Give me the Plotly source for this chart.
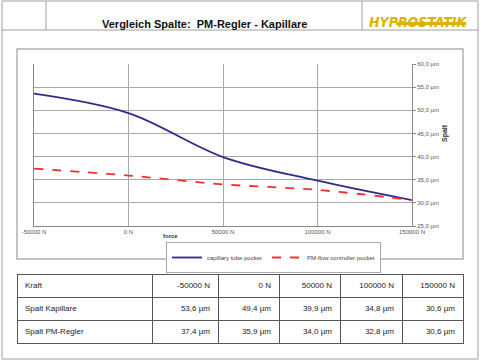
import plotly.graph_objects as go

force = [-50000, 0, 50000, 100000, 150000]
force_labels = ["-50000 N", "0 N", "50000 N", "100000 N", "150000 N"]
kapillare = [53.6, 49.4, 39.9, 34.8, 30.6]
pm_regler = [37.4, 35.9, 34.0, 32.8, 30.6]
y_ticks = [25, 30, 35, 40, 45, 50, 55, 60]

W, H = 480, 363
def px(x): return x / W
def py(y): return 1 - y / H

fig = go.Figure()
fig.add_trace(go.Scatter(x=force, y=kapillare, mode="lines", name="capillary tube pocket",
                         line=dict(color="#2E2A8E", width=1.8, shape="spline", smoothing=1.0)))
fig.add_trace(go.Scatter(x=force, y=pm_regler, mode="lines", name="PM-flow controller pocket",
                         line=dict(color="#F0302E", width=1.8, dash="dash", shape="spline")))

fmt = lambda v: f"{v:.1f}".replace(".", ",") + " µm"
header = ["Kraft"] + force_labels
row1 = ["Spalt Kapillare"] + [fmt(v) for v in kapillare]
row2 = ["Spalt PM-Regler"] + [fmt(v) for v in pm_regler]
cols = [[row1[i], row2[i]] for i in range(len(header))]
fig.add_trace(go.Table(
    domain=dict(x=[px(17), px(463)], y=[py(344), py(274)]),
    columnwidth=[135, 66, 61, 61, 62, 61],
    header=dict(values=header, height=23, align=["left"] + ["right"] * 5,
                line=dict(color="#555555", width=1), fill=dict(color="white"),
                font=dict(family="Liberation Sans, Arial", size=8, color="#222222")),
    cells=dict(values=cols, height=23, align=["left"] + ["right"] * 5,
               line=dict(color="#555555", width=1), fill=dict(color="white"),
               font=dict(family="Liberation Sans, Arial", size=8, color="#222222")),
))

grid = "#AAAAAA"
fig.update_layout(
    width=W, height=H, margin=dict(l=0, r=0, t=0, b=0, autoexpand=False),
    paper_bgcolor="white", plot_bgcolor="white",
    font=dict(family="Liberation Sans, Arial", color="#555555"),
    xaxis=dict(domain=[px(34), px(412)], range=[-50000, 150000], tickvals=force,
               ticktext=force_labels, showgrid=True, gridcolor=grid, gridwidth=1,
               showline=True, linecolor="#888888", zeroline=False, automargin=False,
               tickfont=dict(size=6, color="#555555"), ticks="", ticklen=0),
    yaxis=dict(domain=[py(226), py(64)], range=[25, 60], tickvals=y_ticks,
               ticktext=[fmt(v) for v in y_ticks], side="right", automargin=False,
               showgrid=True, gridcolor=grid, gridwidth=1, showline=True,
               linecolor="#888888", mirror=True, zeroline=False,
               ticks="outside", ticklen=3, tickcolor="#888888",
               tickfont=dict(size=6, color="#555555")),
    legend=dict(orientation="h", x=px(166), y=py(242), xanchor="left", yanchor="top",
                bordercolor="#AAAAAA", borderwidth=1, bgcolor="white",
                font=dict(size=6, color="#444444"), itemwidth=30,
                tracegroupgap=0),
    showlegend=True,
)

shapes = []
line_c = "#A0A0A0"
shapes.append(dict(type="rect", xref="paper", yref="paper", x0=px(2), x1=px(478), y0=py(359), y1=py(1),
                   line=dict(color=line_c, width=1)))
shapes.append(dict(type="line", xref="paper", yref="paper", x0=px(2), x1=px(478), y0=py(30), y1=py(30),
                   line=dict(color=line_c, width=1)))
for xv in (46, 362):
    shapes.append(dict(type="line", xref="paper", yref="paper", x0=px(xv), x1=px(xv), y0=py(30), y1=py(1),
                       line=dict(color=line_c, width=1)))
shapes.append(dict(type="rect", xref="paper", yref="paper", x0=px(17), x1=px(463), y0=py(259), y1=py(49),
                   line=dict(color="#B0B0B0", width=1.5)))
shapes.append(dict(type="rect", xref="paper", yref="paper", x0=px(396), x1=px(466), y0=py(25), y1=py(22),
                   line=dict(width=0), fillcolor="#E0B000"))
fig.update_layout(shapes=shapes)

anns = [
    dict(text="<b>Vergleich Spalte:  PM-Regler - Kapillare</b>", x=px(204), y=py(16), xref="paper", yref="paper",
         showarrow=False, font=dict(size=11, color="#111111", family="Liberation Sans, Arial")),
    dict(text="<b><i>HYPROSTATIK</i></b>", x=px(367), y=py(12), xref="paper", yref="paper", xanchor="left",
         showarrow=False, font=dict(size=14, color="#E0B000", family="DejaVu Sans Condensed")),
    dict(text="<b>force</b>", x=px(170), y=py(236), xref="paper", yref="paper",
         showarrow=False, font=dict(size=6, color="#333333")),
    dict(text="<b>Spalt</b>", x=px(451), y=py(133), xref="paper", yref="paper", textangle=-90,
         showarrow=False, font=dict(size=7, color="#333333")),
]
fig.update_layout(annotations=anns)

fig.write_html("out.html", config={"displayModeBar": False},
               post_script="document.body.style.margin='0px';document.body.style.overflow='hidden';")
